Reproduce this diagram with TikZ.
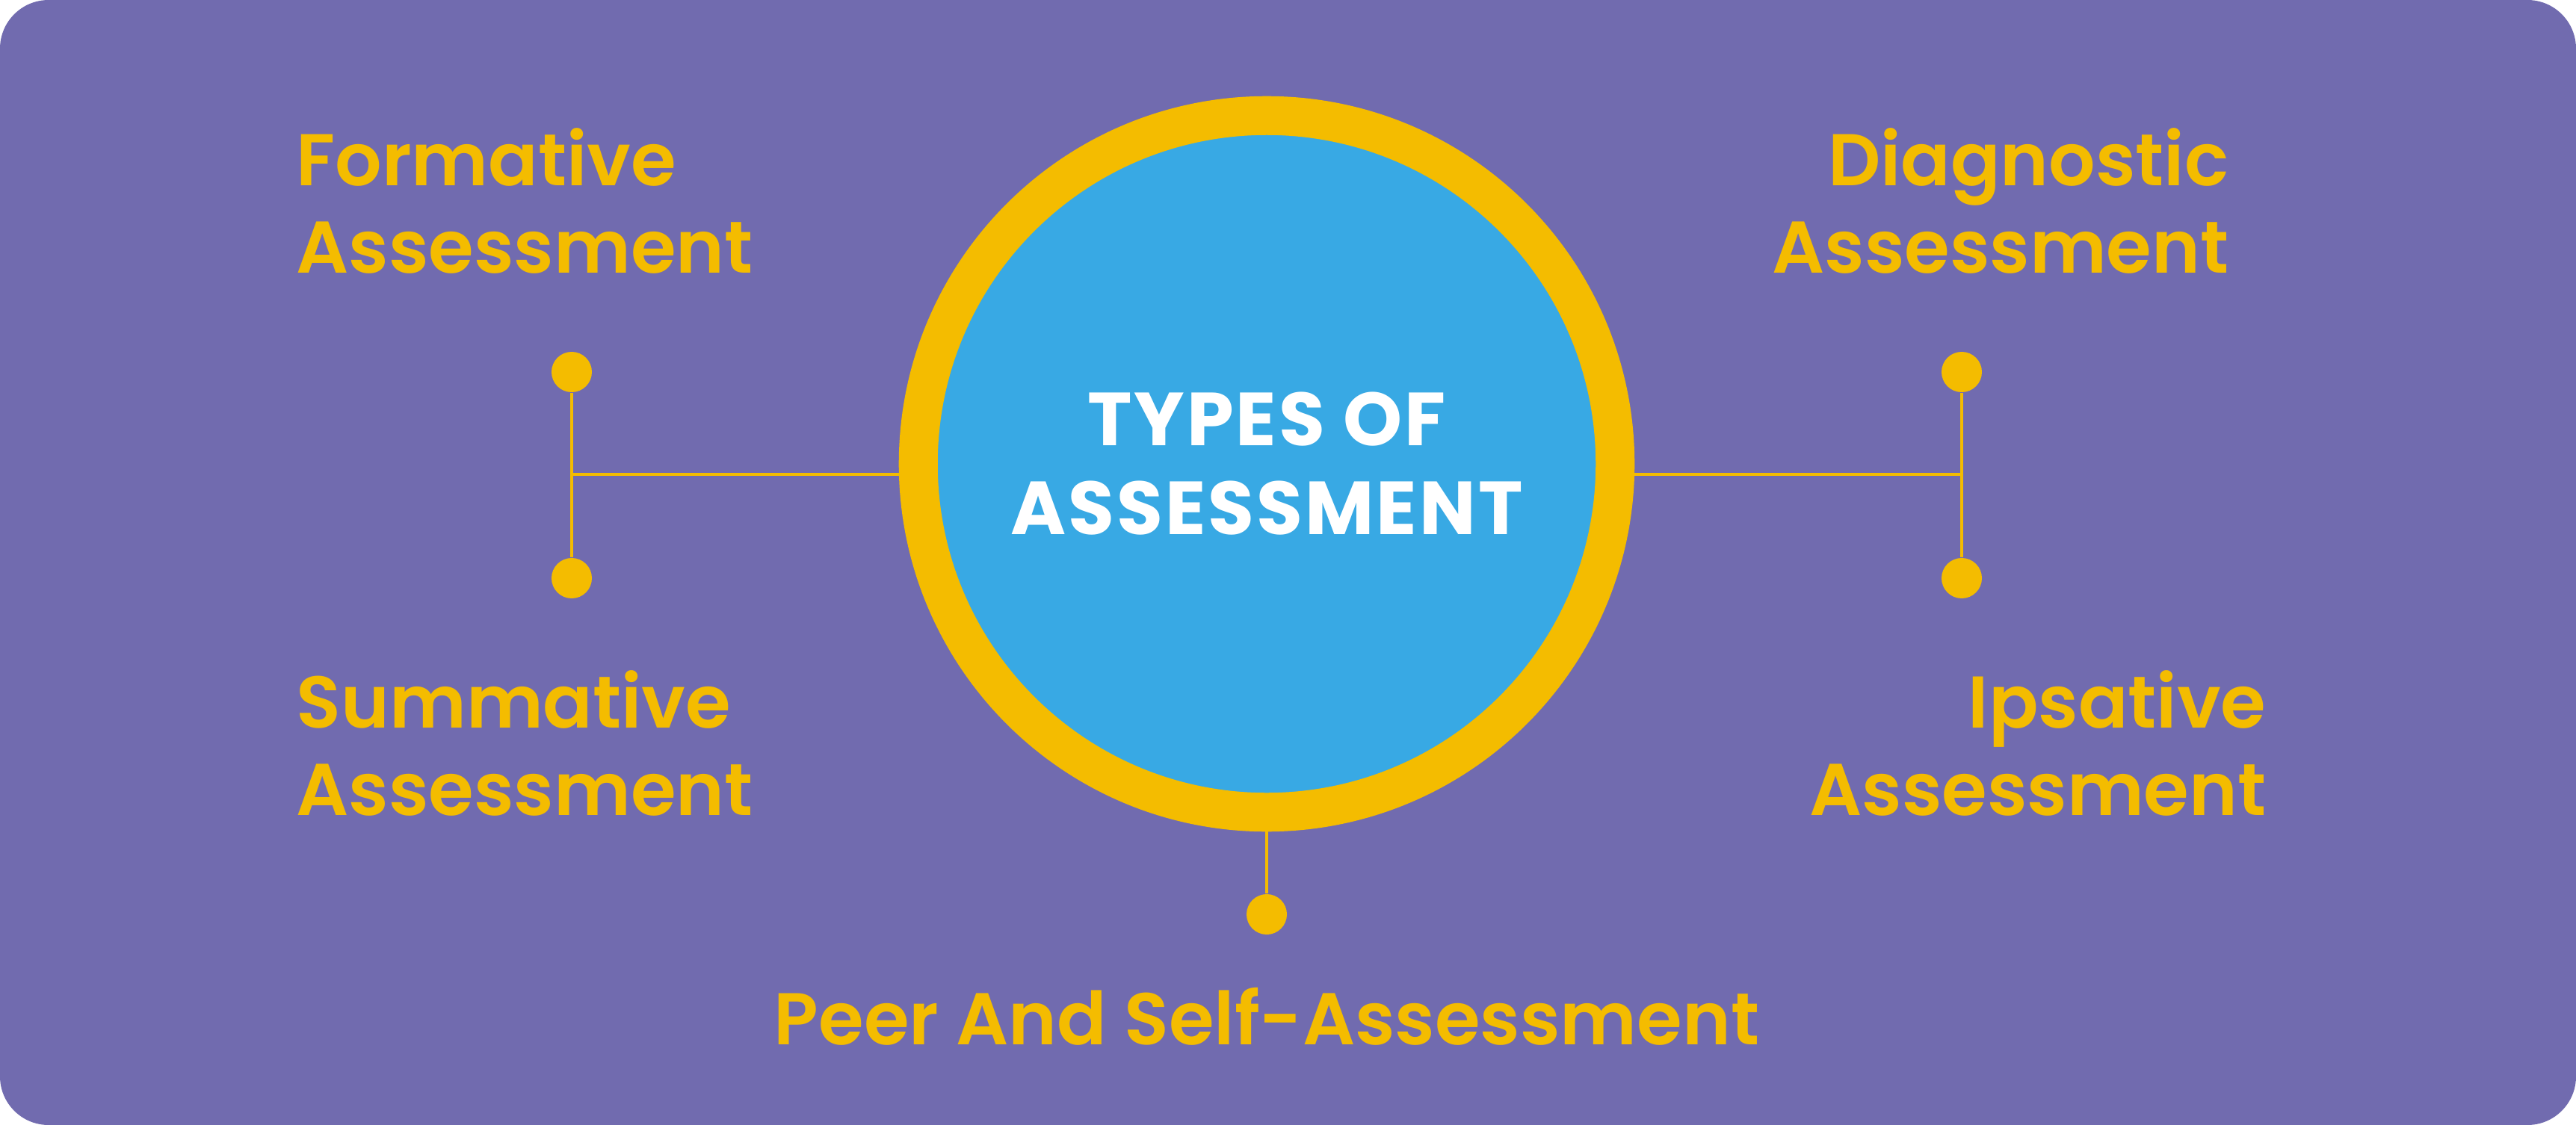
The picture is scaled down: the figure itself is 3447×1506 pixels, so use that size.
\documentclass[tikz,border=0pt]{standalone}
\usepackage{fontspec}
\setmainfont{Poppins}
\newfontfamily\labfont{Poppins}[UprightFont={* SemiBold}]
\newfontfamily\titfont{Poppins}[UprightFont={* Bold}, LetterSpace=3]
\definecolor{bgp}{HTML}{716BAF}
\definecolor{ayellow}{HTML}{F4BC00}
\definecolor{ablue}{HTML}{38A9E4}
\begin{document}
\begin{tikzpicture}[x=0.01cm,y=-0.01cm,
  lab/.style={text=ayellow, font=\labfont\fontsize{27.9pt}{33.4pt}\selectfont, inner sep=0pt},
  tit/.style={text=white, font=\titfont\fontsize{28.6pt}{33.6pt}\selectfont, inner sep=0pt, align=center},
  dotnode/.style={circle, fill=ayellow, minimum size=0.54cm, inner sep=0pt},
  conn/.style={draw=ayellow, line width=0.9pt},
  hubstyle/.style={circle, fill=ablue, draw=ayellow, line width=0.52cm, minimum size=9.32cm, inner sep=0pt}]
\useasboundingbox (0,0) rectangle (3447,1506);
\fill[white] (0,0) rectangle (3447,1506);
\fill[bgp, rounded corners=0.65cm] (0,0) rectangle (3447,1506);
% hub
\node[hubstyle] (hub) at (1695,621) {};
\node[tit, anchor=base] (title) at (1695,715) {TYPES OF\\ASSESSMENT};
% dots
\node[dotnode] (dlt) at (765,498) {};
\node[dotnode] (dlb) at (765,774) {};
\node[dotnode] (drt) at (2625,498) {};
\node[dotnode] (drb) at (2625,774) {};
\node[dotnode] (dbot) at (1695,1224) {};
\coordinate (jl) at (765,635);
\coordinate (jr) at (2625,635);
% connectors
\draw[conn] (dlt) -- (dlb);
\draw[conn] (drt) -- (drb);
\draw[conn] (jl) -- (jl -| hub.west);
\draw[conn] (jr) -- (jr -| hub.east);
\draw[conn] (hub.south) -- (dbot);
% labels
\node[lab, align=left, anchor=base west] (formative) at (396,365.5) {Formative\\Assessment};
\node[lab, align=left, anchor=base west] (summative) at (396,1091.7) {Summative\\Assessment};
\node[lab, align=right, anchor=base east] (diagnostic) at (2983,365.5) {Diagnostic\\Assessment};
\node[lab, align=right, anchor=base east] (ipsative) at (3033,1091.7) {Ipsative\\Assessment};
\node[lab, anchor=base] (peer) at (1695,1398) {Peer And Self-Assessment};
\end{tikzpicture}
\end{document}
